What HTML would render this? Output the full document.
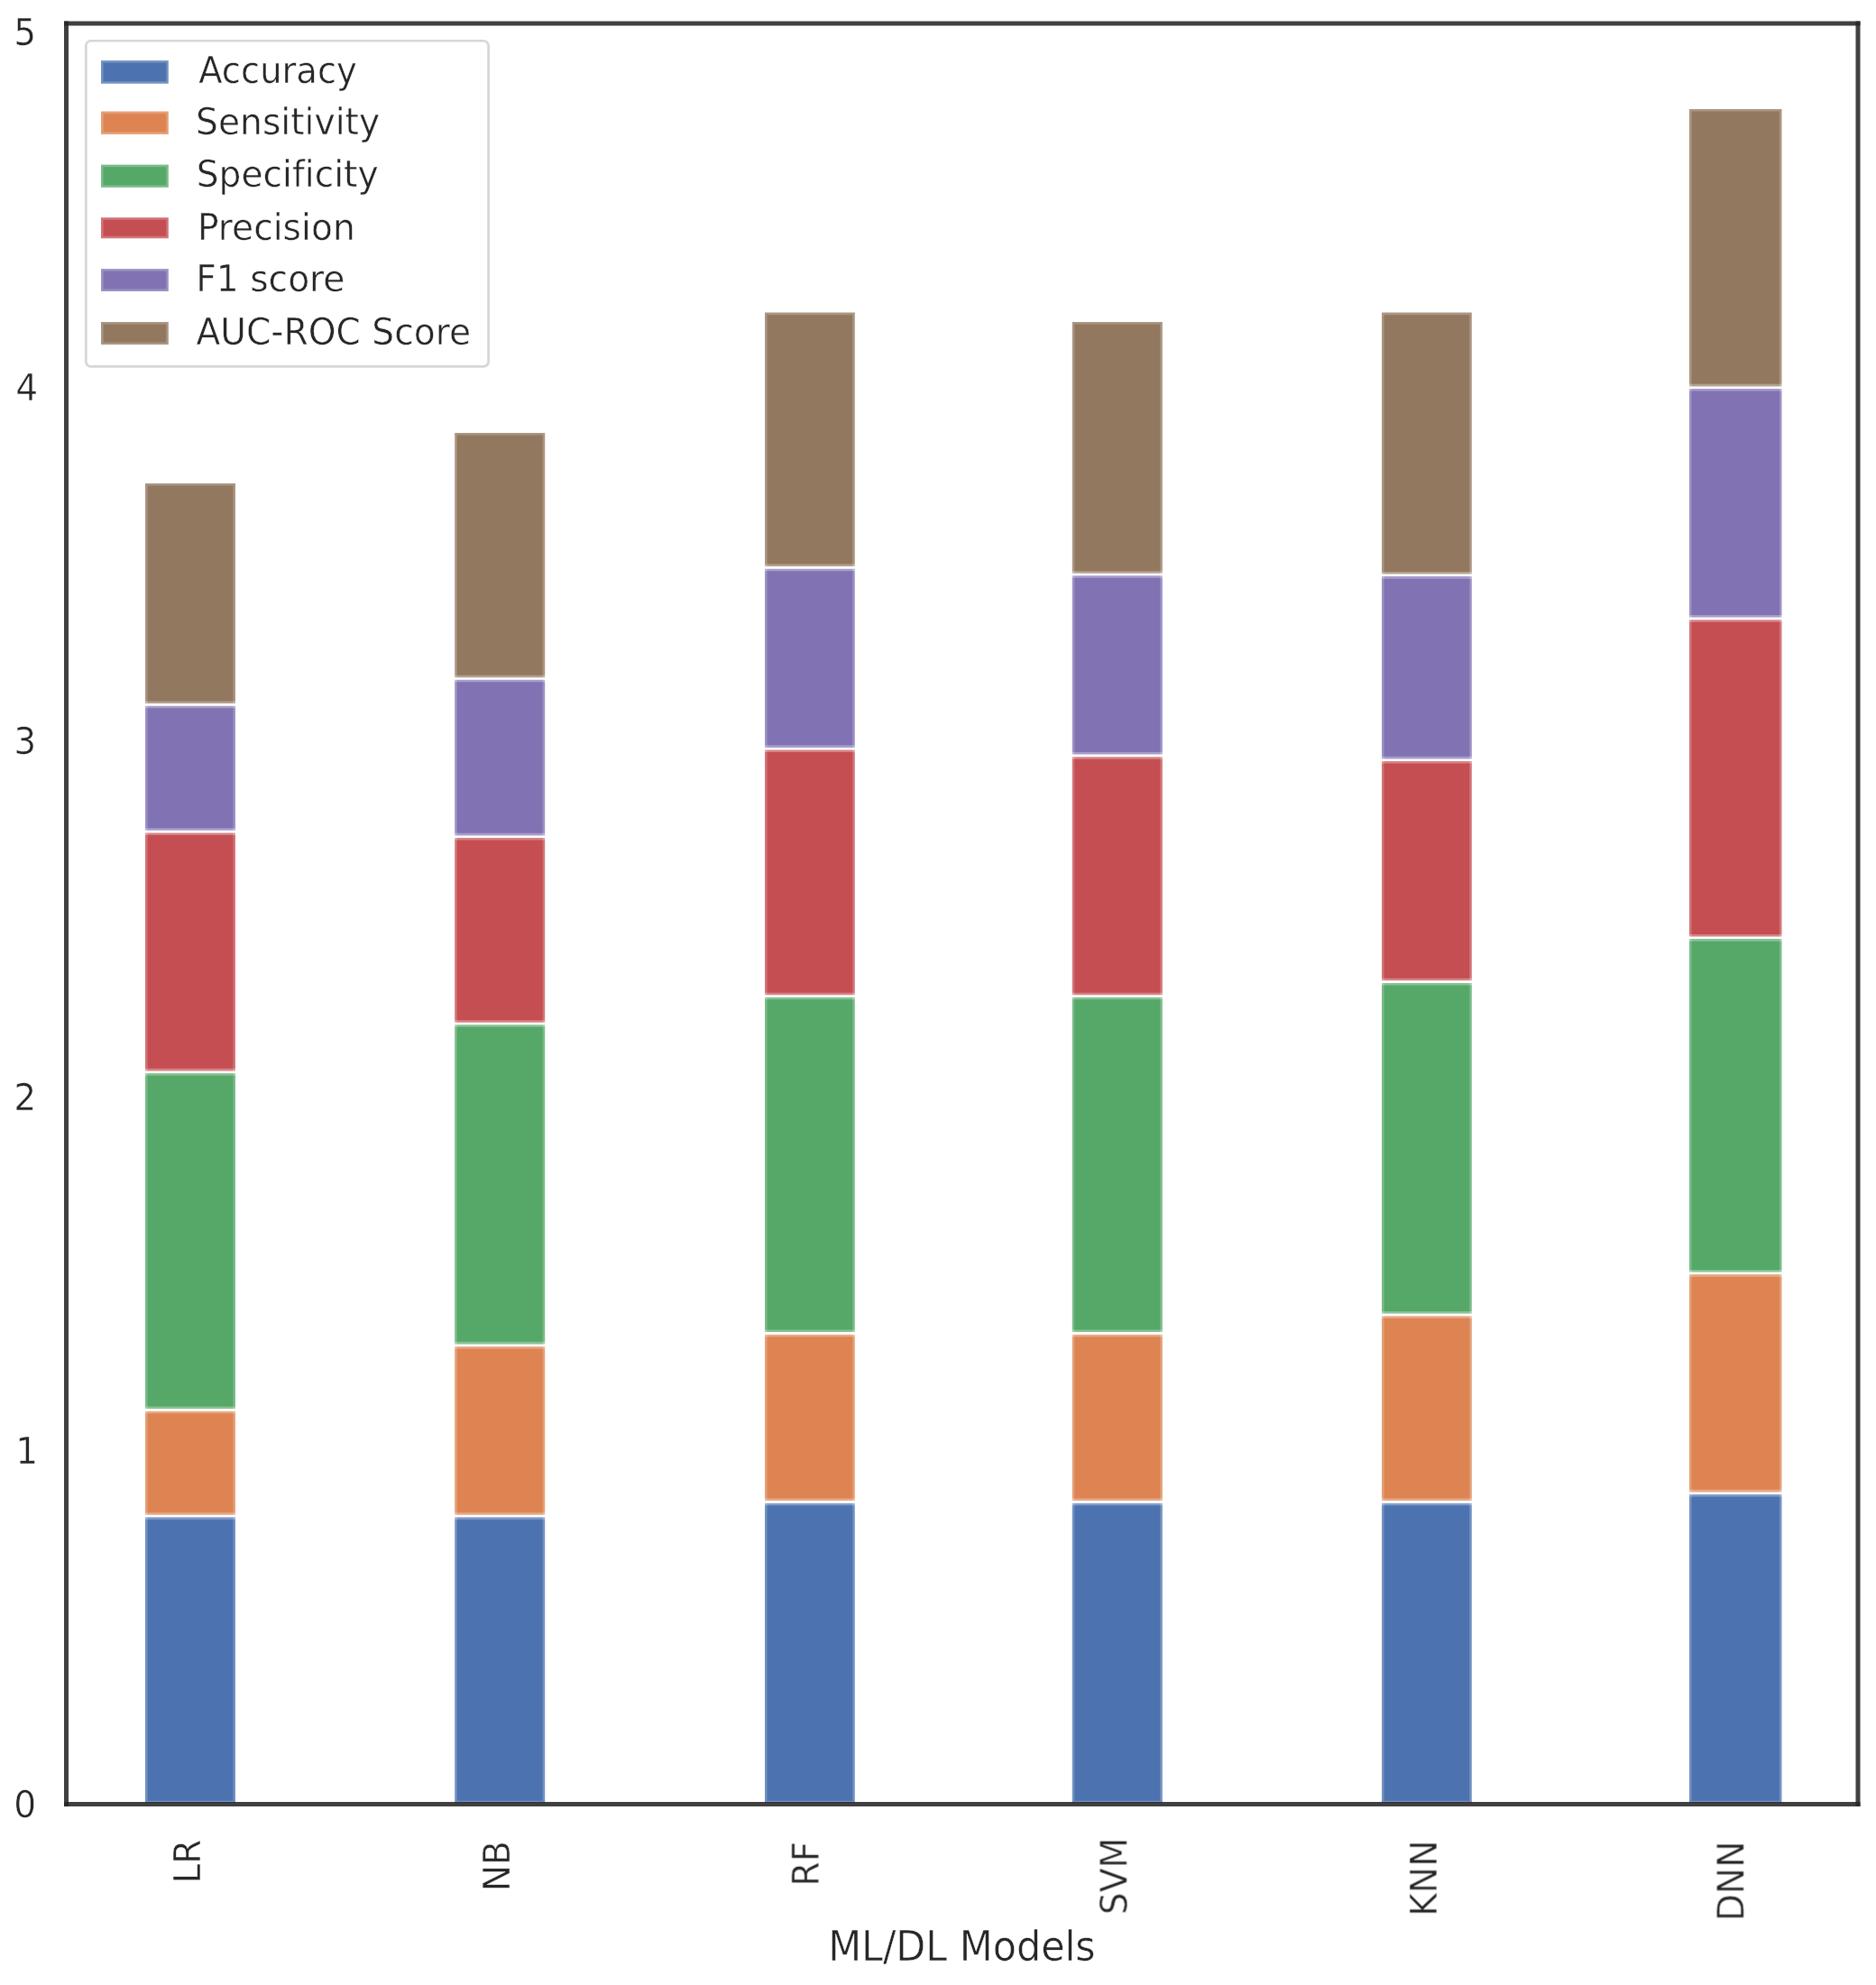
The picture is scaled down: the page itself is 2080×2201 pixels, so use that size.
<!DOCTYPE html>
<html lang="en">
<head>
<meta charset="utf-8">
<title>ML/DL Models metrics</title>
<style>
html,body{margin:0;padding:0;background:#fff;}
body{width:2080px;height:2201px;overflow:hidden;}
svg{display:block;}
text{font-family:"DejaVu Sans","Liberation Sans",sans-serif;fill:#262626;font-variant-ligatures:none;font-feature-settings:"liga" 0,"clig" 0;stroke:#fff;stroke-width:0.5px;paint-order:fill stroke;}
.t{font-size:39.2px;}
.xl{font-size:43.0px;}
.soft{filter:url(#soft);}
.e1{fill:none;stroke:#fff;stroke-width:7.68;stroke-opacity:0.3;}
.e0{fill:none;stroke:#fff;stroke-width:7.68;stroke-opacity:0.22;}
.e2{fill:none;stroke:#fff;stroke-width:2.56;}
.sp{stroke:#262626;stroke-opacity:0.88;stroke-width:5;stroke-linecap:square;fill:none;}
</style>
</head>
<body>
<svg width="2080" height="2201" viewBox="0 0 2080 2201">
<defs><filter id="soft" x="0" y="0" width="2080" height="2201" filterUnits="userSpaceOnUse" color-interpolation-filters="sRGB"><feGaussianBlur stdDeviation="0.55"/></filter></defs>
<rect x="0" y="0" width="2080" height="2201" fill="#ffffff"/>
<g id="bars">
<rect x="159.72" y="534.72" width="102.56" height="246.68" fill="#937860"/>
<rect x="159.72" y="781.40" width="102.56" height="140.70" fill="#8172B3"/>
<rect x="159.72" y="922.10" width="102.56" height="266.60" fill="#C44E52"/>
<rect x="159.72" y="1188.70" width="102.56" height="374.70" fill="#55A868"/>
<rect x="159.72" y="1563.40" width="102.56" height="117.60" fill="#DD8452"/>
<rect x="159.72" y="1681.00" width="102.56" height="319.50" fill="#4C72B0"/>
<rect x="502.92" y="478.72" width="102.56" height="273.78" fill="#937860"/>
<rect x="502.92" y="752.50" width="102.56" height="175.20" fill="#8172B3"/>
<rect x="502.92" y="927.70" width="102.56" height="207.30" fill="#C44E52"/>
<rect x="502.92" y="1135.00" width="102.56" height="356.70" fill="#55A868"/>
<rect x="502.92" y="1491.70" width="102.56" height="189.30" fill="#DD8452"/>
<rect x="502.92" y="1681.00" width="102.56" height="319.50" fill="#4C72B0"/>
<rect x="846.72" y="345.32" width="102.36" height="284.08" fill="#937860"/>
<rect x="846.72" y="629.40" width="102.36" height="200.80" fill="#8172B3"/>
<rect x="846.72" y="830.20" width="102.36" height="274.30" fill="#C44E52"/>
<rect x="846.72" y="1104.50" width="102.36" height="373.90" fill="#55A868"/>
<rect x="846.72" y="1478.40" width="102.36" height="187.00" fill="#DD8452"/>
<rect x="846.72" y="1665.40" width="102.36" height="335.10" fill="#4C72B0"/>
<rect x="1187.52" y="355.62" width="102.56" height="281.38" fill="#937860"/>
<rect x="1187.52" y="637.00" width="102.56" height="200.90" fill="#8172B3"/>
<rect x="1187.52" y="837.90" width="102.56" height="266.60" fill="#C44E52"/>
<rect x="1187.52" y="1104.50" width="102.56" height="373.90" fill="#55A868"/>
<rect x="1187.52" y="1478.40" width="102.56" height="187.00" fill="#DD8452"/>
<rect x="1187.52" y="1665.40" width="102.56" height="335.10" fill="#4C72B0"/>
<rect x="1530.72" y="345.32" width="102.36" height="292.48" fill="#937860"/>
<rect x="1530.72" y="637.80" width="102.36" height="204.90" fill="#8172B3"/>
<rect x="1530.72" y="842.70" width="102.36" height="245.90" fill="#C44E52"/>
<rect x="1530.72" y="1088.60" width="102.36" height="369.30" fill="#55A868"/>
<rect x="1530.72" y="1457.90" width="102.36" height="207.50" fill="#DD8452"/>
<rect x="1530.72" y="1665.40" width="102.36" height="335.10" fill="#4C72B0"/>
<rect x="1871.72" y="119.72" width="105.06" height="309.98" fill="#937860"/>
<rect x="1871.72" y="429.70" width="105.06" height="256.20" fill="#8172B3"/>
<rect x="1871.72" y="685.90" width="105.06" height="353.90" fill="#C44E52"/>
<rect x="1871.72" y="1039.80" width="105.06" height="372.00" fill="#55A868"/>
<rect x="1871.72" y="1411.80" width="105.06" height="243.90" fill="#DD8452"/>
<rect x="1871.72" y="1655.70" width="105.06" height="344.80" fill="#4C72B0"/>
<path class="e0" d="M159.72 534.72H262.28V2000.50H159.72Z"/>
<path class="e1" d="M159.72 781.40H262.28M159.72 922.10H262.28M159.72 1188.70H262.28M159.72 1563.40H262.28M159.72 1681.00H262.28"/>
<path class="e0" d="M502.92 478.72H605.48V2000.50H502.92Z"/>
<path class="e1" d="M502.92 752.50H605.48M502.92 927.70H605.48M502.92 1135.00H605.48M502.92 1491.70H605.48M502.92 1681.00H605.48"/>
<path class="e0" d="M846.72 345.32H949.08V2000.50H846.72Z"/>
<path class="e1" d="M846.72 629.40H949.08M846.72 830.20H949.08M846.72 1104.50H949.08M846.72 1478.40H949.08M846.72 1665.40H949.08"/>
<path class="e0" d="M1187.52 355.62H1290.08V2000.50H1187.52Z"/>
<path class="e1" d="M1187.52 637.00H1290.08M1187.52 837.90H1290.08M1187.52 1104.50H1290.08M1187.52 1478.40H1290.08M1187.52 1665.40H1290.08"/>
<path class="e0" d="M1530.72 345.32H1633.08V2000.50H1530.72Z"/>
<path class="e1" d="M1530.72 637.80H1633.08M1530.72 842.70H1633.08M1530.72 1088.60H1633.08M1530.72 1457.90H1633.08M1530.72 1665.40H1633.08"/>
<path class="e0" d="M1871.72 119.72H1976.78V2000.50H1871.72Z"/>
<path class="e1" d="M1871.72 429.70H1976.78M1871.72 685.90H1976.78M1871.72 1039.80H1976.78M1871.72 1411.80H1976.78M1871.72 1655.70H1976.78"/>
<path class="e2" d="M159.72 534.72H262.28V2000.50H159.72ZM159.72 781.40H262.28M159.72 922.10H262.28M159.72 1188.70H262.28M159.72 1563.40H262.28M159.72 1681.00H262.28"/>
<path class="e2" d="M502.92 478.72H605.48V2000.50H502.92ZM502.92 752.50H605.48M502.92 927.70H605.48M502.92 1135.00H605.48M502.92 1491.70H605.48M502.92 1681.00H605.48"/>
<path class="e2" d="M846.72 345.32H949.08V2000.50H846.72ZM846.72 629.40H949.08M846.72 830.20H949.08M846.72 1104.50H949.08M846.72 1478.40H949.08M846.72 1665.40H949.08"/>
<path class="e2" d="M1187.52 355.62H1290.08V2000.50H1187.52ZM1187.52 637.00H1290.08M1187.52 837.90H1290.08M1187.52 1104.50H1290.08M1187.52 1478.40H1290.08M1187.52 1665.40H1290.08"/>
<path class="e2" d="M1530.72 345.32H1633.08V2000.50H1530.72ZM1530.72 637.80H1633.08M1530.72 842.70H1633.08M1530.72 1088.60H1633.08M1530.72 1457.90H1633.08M1530.72 1665.40H1633.08"/>
<path class="e2" d="M1871.72 119.72H1976.78V2000.50H1871.72ZM1871.72 429.70H1976.78M1871.72 685.90H1976.78M1871.72 1039.80H1976.78M1871.72 1411.80H1976.78M1871.72 1655.70H1976.78"/>
</g>
<g id="spines">
<line class="sp" x1="73.5" y1="25.9" x2="73.5" y2="2000.5"/>
<line class="sp" x1="2060.0" y1="25.9" x2="2060.0" y2="2000.5"/>
<line class="sp" x1="73.5" y1="2000.5" x2="2060.0" y2="2000.5"/>
<line class="sp" x1="73.5" y1="25.9" x2="2060.0" y2="25.9"/>
</g>
<g id="yticks" class="t soft" text-anchor="end">
<text transform="translate(40.3,2015.3) scale(1,1.035)">0</text>
<text transform="translate(42.3,1622.9) scale(1,1.035)">1</text>
<text transform="translate(40.3,1231.1) scale(1,1.035)">2</text>
<text transform="translate(40.3,835.9) scale(1,1.035)">3</text>
<text transform="translate(42.3,443.9) scale(1,1.035)">4</text>
<text transform="translate(40.3,50.3) scale(1,1.035)">5</text>
</g>
<g id="xticks" class="t soft" text-anchor="end">
<text transform="translate(222.4,2039.5) rotate(-90) scale(1,1.035)">LR</text>
<text transform="translate(565.4,2041.0) rotate(-90) scale(1,1.035)">NB</text>
<text transform="translate(908.0,2041.8) rotate(-90) scale(1,1.035)">RF</text>
<text transform="translate(1249.7,2037.7) rotate(-90) scale(1,1.035)">SVM</text>
<text transform="translate(1593.2,2040.5) rotate(-90) scale(1,1.035)">KNN</text>
<text transform="translate(1933.7,2041.5) rotate(-90) scale(1,1.035)">DNN</text>
</g>
<g class="soft"><text class="xl" transform="translate(1066.4,2174.4) scale(0.996,1.0599999999999998)" text-anchor="middle">ML/DL Models</text></g>
<g id="legend">
<rect x="95.3" y="45.25" width="446.3" height="361.15" rx="5.5" ry="5.5" fill="#ffffff" fill-opacity="0.8" stroke="#cccccc" stroke-opacity="0.8" stroke-width="2.7"/>
<rect x="110.72" y="65.82" width="77.36" height="28.16" fill="#4C72B0"/>
<rect x="110.72" y="122.22" width="77.36" height="27.96" fill="#DD8452"/>
<rect x="110.72" y="181.32" width="77.36" height="27.76" fill="#55A868"/>
<rect x="110.72" y="239.92" width="77.36" height="25.66" fill="#C44E52"/>
<rect x="110.72" y="296.82" width="77.36" height="27.46" fill="#8172B3"/>
<rect x="110.72" y="355.72" width="77.36" height="27.66" fill="#937860"/>
<rect class="e0" x="110.72" y="65.82" width="77.36" height="28.16"/>
<rect class="e2" x="110.72" y="65.82" width="77.36" height="28.16"/>
<rect class="e0" x="110.72" y="122.22" width="77.36" height="27.96"/>
<rect class="e2" x="110.72" y="122.22" width="77.36" height="27.96"/>
<rect class="e0" x="110.72" y="181.32" width="77.36" height="27.76"/>
<rect class="e2" x="110.72" y="181.32" width="77.36" height="27.76"/>
<rect class="e0" x="110.72" y="239.92" width="77.36" height="25.66"/>
<rect class="e2" x="110.72" y="239.92" width="77.36" height="25.66"/>
<rect class="e0" x="110.72" y="296.82" width="77.36" height="27.46"/>
<rect class="e2" x="110.72" y="296.82" width="77.36" height="27.46"/>
<rect class="e0" x="110.72" y="355.72" width="77.36" height="27.66"/>
<rect class="e2" x="110.72" y="355.72" width="77.36" height="27.66"/>
<g class="t soft">
<text transform="translate(220.20,92.0) scale(1,1.035)" textLength="175.6" lengthAdjust="spacingAndGlyphs">Accuracy</text>
<text transform="translate(217.10,148.5) scale(1,1.035)">Sensitivity</text>
<text transform="translate(217.70,207.3) scale(1,1.035)">Specificity</text>
<text transform="translate(218.90,266.3) scale(1,1.035)">Precision</text>
<text transform="translate(217.25,322.5) scale(1,1.035)">F1 score</text>
<text transform="translate(217.50,381.6) scale(1,1.035)">AUC-ROC Score</text>
</g>
</g>
</svg>
</body>
</html>
